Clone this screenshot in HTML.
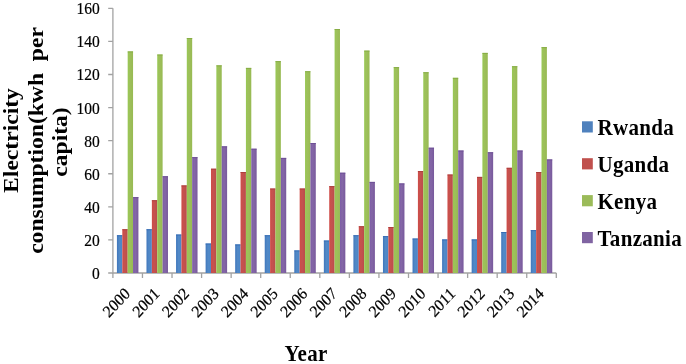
<!DOCTYPE html>
<html><head><meta charset="utf-8"><style>
html,body{margin:0;padding:0;background:#fff;}
svg{display:block;filter:blur(0.35px);}
.t{font-family:"Liberation Serif",serif;font-size:15.5px;fill:#000;stroke:#000;stroke-width:0.2px;}
.x{font-family:"Liberation Serif",serif;font-size:15.5px;fill:#000;stroke:#000;stroke-width:0.2px;}
.b{font-family:"Liberation Serif",serif;font-size:20px;font-weight:bold;fill:#000;}
.hl{letter-spacing:0.3px;font-size:21px;}
</style></head><body>
<svg width="686" height="364" viewBox="0 0 686 364">
<rect width="686" height="364" fill="#fff"/>
<path d="M112.9 8.3V273.0H556.30" fill="none" stroke="#a2a2a2" stroke-width="1.3"/>
<path d="M108.20 273.00H112.9M108.20 239.91H112.9M108.20 206.82H112.9M108.20 173.74H112.9M108.20 140.65H112.9M108.20 107.56H112.9M108.20 74.48H112.9M108.20 41.39H112.9M108.20 8.30H112.9M112.90 273.0V278.0M142.46 273.0V278.0M172.02 273.0V278.0M201.58 273.0V278.0M231.14 273.0V278.0M260.70 273.0V278.0M290.26 273.0V278.0M319.82 273.0V278.0M349.38 273.0V278.0M378.94 273.0V278.0M408.50 273.0V278.0M438.06 273.0V278.0M467.62 273.0V278.0M497.18 273.0V278.0M526.74 273.0V278.0M556.30 273.0V278.0" fill="none" stroke="#a2a2a2" stroke-width="1.3"/>
<defs>
<linearGradient id="g0" x1="0" y1="0" x2="1" y2="0"><stop offset="0" stop-color="#3F76BC"/><stop offset="0.45" stop-color="#5289C6"/><stop offset="1" stop-color="#4A86CA"/></linearGradient>
<linearGradient id="g1" x1="0" y1="0" x2="1" y2="0"><stop offset="0" stop-color="#CF4B47"/><stop offset="0.45" stop-color="#C4534F"/><stop offset="1" stop-color="#BC4B4B"/></linearGradient>
<linearGradient id="g2" x1="0" y1="0" x2="1" y2="0"><stop offset="0" stop-color="#98C853"/><stop offset="0.45" stop-color="#9EBF5B"/><stop offset="1" stop-color="#97BA52"/></linearGradient>
<linearGradient id="g3" x1="0" y1="0" x2="1" y2="0"><stop offset="0" stop-color="#7D5CA8"/><stop offset="0.45" stop-color="#8467A6"/><stop offset="1" stop-color="#78599C"/></linearGradient>
</defs>
<rect x="116.93" y="235.20" width="5.37" height="37.80" fill="url(#g0)"/>
<rect x="116.93" y="235.20" width="5.37" height="1" fill="#2F66B0" opacity="0.8"/>
<rect x="146.49" y="229.20" width="5.37" height="43.80" fill="url(#g0)"/>
<rect x="146.49" y="229.20" width="5.37" height="1" fill="#2F66B0" opacity="0.8"/>
<rect x="176.05" y="234.50" width="5.37" height="38.50" fill="url(#g0)"/>
<rect x="176.05" y="234.50" width="5.37" height="1" fill="#2F66B0" opacity="0.8"/>
<rect x="205.61" y="243.50" width="5.37" height="29.50" fill="url(#g0)"/>
<rect x="205.61" y="243.50" width="5.37" height="1" fill="#2F66B0" opacity="0.8"/>
<rect x="235.17" y="244.40" width="5.37" height="28.60" fill="url(#g0)"/>
<rect x="235.17" y="244.40" width="5.37" height="1" fill="#2F66B0" opacity="0.8"/>
<rect x="264.73" y="235.20" width="5.37" height="37.80" fill="url(#g0)"/>
<rect x="264.73" y="235.20" width="5.37" height="1" fill="#2F66B0" opacity="0.8"/>
<rect x="294.29" y="250.40" width="5.37" height="22.60" fill="url(#g0)"/>
<rect x="294.29" y="250.40" width="5.37" height="1" fill="#2F66B0" opacity="0.8"/>
<rect x="323.85" y="240.50" width="5.37" height="32.50" fill="url(#g0)"/>
<rect x="323.85" y="240.50" width="5.37" height="1" fill="#2F66B0" opacity="0.8"/>
<rect x="353.41" y="235.20" width="5.37" height="37.80" fill="url(#g0)"/>
<rect x="353.41" y="235.20" width="5.37" height="1" fill="#2F66B0" opacity="0.8"/>
<rect x="382.97" y="236.10" width="5.37" height="36.90" fill="url(#g0)"/>
<rect x="382.97" y="236.10" width="5.37" height="1" fill="#2F66B0" opacity="0.8"/>
<rect x="412.53" y="238.50" width="5.37" height="34.50" fill="url(#g0)"/>
<rect x="412.53" y="238.50" width="5.37" height="1" fill="#2F66B0" opacity="0.8"/>
<rect x="442.09" y="239.40" width="5.37" height="33.60" fill="url(#g0)"/>
<rect x="442.09" y="239.40" width="5.37" height="1" fill="#2F66B0" opacity="0.8"/>
<rect x="471.65" y="239.40" width="5.37" height="33.60" fill="url(#g0)"/>
<rect x="471.65" y="239.40" width="5.37" height="1" fill="#2F66B0" opacity="0.8"/>
<rect x="501.21" y="232.00" width="5.37" height="41.00" fill="url(#g0)"/>
<rect x="501.21" y="232.00" width="5.37" height="1" fill="#2F66B0" opacity="0.8"/>
<rect x="530.77" y="230.10" width="5.37" height="42.90" fill="url(#g0)"/>
<rect x="530.77" y="230.10" width="5.37" height="1" fill="#2F66B0" opacity="0.8"/>
<rect x="122.31" y="229.20" width="5.37" height="43.80" fill="url(#g1)"/>
<rect x="122.31" y="229.20" width="5.37" height="1" fill="#A83A38" opacity="0.8"/>
<rect x="151.87" y="200.20" width="5.37" height="72.80" fill="url(#g1)"/>
<rect x="151.87" y="200.20" width="5.37" height="1" fill="#A83A38" opacity="0.8"/>
<rect x="181.43" y="185.40" width="5.37" height="87.60" fill="url(#g1)"/>
<rect x="181.43" y="185.40" width="5.37" height="1" fill="#A83A38" opacity="0.8"/>
<rect x="210.99" y="168.70" width="5.37" height="104.30" fill="url(#g1)"/>
<rect x="210.99" y="168.70" width="5.37" height="1" fill="#A83A38" opacity="0.8"/>
<rect x="240.55" y="172.00" width="5.37" height="101.00" fill="url(#g1)"/>
<rect x="240.55" y="172.00" width="5.37" height="1" fill="#A83A38" opacity="0.8"/>
<rect x="270.11" y="188.50" width="5.37" height="84.50" fill="url(#g1)"/>
<rect x="270.11" y="188.50" width="5.37" height="1" fill="#A83A38" opacity="0.8"/>
<rect x="299.67" y="188.50" width="5.37" height="84.50" fill="url(#g1)"/>
<rect x="299.67" y="188.50" width="5.37" height="1" fill="#A83A38" opacity="0.8"/>
<rect x="329.23" y="186.10" width="5.37" height="86.90" fill="url(#g1)"/>
<rect x="329.23" y="186.10" width="5.37" height="1" fill="#A83A38" opacity="0.8"/>
<rect x="358.79" y="226.20" width="5.37" height="46.80" fill="url(#g1)"/>
<rect x="358.79" y="226.20" width="5.37" height="1" fill="#A83A38" opacity="0.8"/>
<rect x="388.35" y="227.00" width="5.37" height="46.00" fill="url(#g1)"/>
<rect x="388.35" y="227.00" width="5.37" height="1" fill="#A83A38" opacity="0.8"/>
<rect x="417.91" y="171.00" width="5.37" height="102.00" fill="url(#g1)"/>
<rect x="417.91" y="171.00" width="5.37" height="1" fill="#A83A38" opacity="0.8"/>
<rect x="447.47" y="174.50" width="5.37" height="98.50" fill="url(#g1)"/>
<rect x="447.47" y="174.50" width="5.37" height="1" fill="#A83A38" opacity="0.8"/>
<rect x="477.03" y="176.90" width="5.37" height="96.10" fill="url(#g1)"/>
<rect x="477.03" y="176.90" width="5.37" height="1" fill="#A83A38" opacity="0.8"/>
<rect x="506.59" y="167.80" width="5.37" height="105.20" fill="url(#g1)"/>
<rect x="506.59" y="167.80" width="5.37" height="1" fill="#A83A38" opacity="0.8"/>
<rect x="536.15" y="172.00" width="5.37" height="101.00" fill="url(#g1)"/>
<rect x="536.15" y="172.00" width="5.37" height="1" fill="#A83A38" opacity="0.8"/>
<rect x="127.68" y="51.40" width="5.37" height="221.60" fill="url(#g2)"/>
<rect x="127.68" y="51.40" width="5.37" height="1" fill="#82A840" opacity="0.8"/>
<rect x="157.24" y="54.50" width="5.37" height="218.50" fill="url(#g2)"/>
<rect x="157.24" y="54.50" width="5.37" height="1" fill="#82A840" opacity="0.8"/>
<rect x="186.80" y="38.00" width="5.37" height="235.00" fill="url(#g2)"/>
<rect x="186.80" y="38.00" width="5.37" height="1" fill="#82A840" opacity="0.8"/>
<rect x="216.36" y="65.30" width="5.37" height="207.70" fill="url(#g2)"/>
<rect x="216.36" y="65.30" width="5.37" height="1" fill="#82A840" opacity="0.8"/>
<rect x="245.92" y="67.90" width="5.37" height="205.10" fill="url(#g2)"/>
<rect x="245.92" y="67.90" width="5.37" height="1" fill="#82A840" opacity="0.8"/>
<rect x="275.48" y="61.10" width="5.37" height="211.90" fill="url(#g2)"/>
<rect x="275.48" y="61.10" width="5.37" height="1" fill="#82A840" opacity="0.8"/>
<rect x="305.04" y="71.20" width="5.37" height="201.80" fill="url(#g2)"/>
<rect x="305.04" y="71.20" width="5.37" height="1" fill="#82A840" opacity="0.8"/>
<rect x="334.60" y="29.00" width="5.37" height="244.00" fill="url(#g2)"/>
<rect x="334.60" y="29.00" width="5.37" height="1" fill="#82A840" opacity="0.8"/>
<rect x="364.16" y="50.60" width="5.37" height="222.40" fill="url(#g2)"/>
<rect x="364.16" y="50.60" width="5.37" height="1" fill="#82A840" opacity="0.8"/>
<rect x="393.72" y="67.10" width="5.37" height="205.90" fill="url(#g2)"/>
<rect x="393.72" y="67.10" width="5.37" height="1" fill="#82A840" opacity="0.8"/>
<rect x="423.28" y="72.20" width="5.37" height="200.80" fill="url(#g2)"/>
<rect x="423.28" y="72.20" width="5.37" height="1" fill="#82A840" opacity="0.8"/>
<rect x="452.84" y="77.80" width="5.37" height="195.20" fill="url(#g2)"/>
<rect x="452.84" y="77.80" width="5.37" height="1" fill="#82A840" opacity="0.8"/>
<rect x="482.40" y="52.90" width="5.37" height="220.10" fill="url(#g2)"/>
<rect x="482.40" y="52.90" width="5.37" height="1" fill="#82A840" opacity="0.8"/>
<rect x="511.96" y="66.20" width="5.37" height="206.80" fill="url(#g2)"/>
<rect x="511.96" y="66.20" width="5.37" height="1" fill="#82A840" opacity="0.8"/>
<rect x="541.52" y="47.10" width="5.37" height="225.90" fill="url(#g2)"/>
<rect x="541.52" y="47.10" width="5.37" height="1" fill="#82A840" opacity="0.8"/>
<rect x="133.05" y="197.10" width="5.37" height="75.90" fill="url(#g3)"/>
<rect x="133.05" y="197.10" width="5.37" height="1" fill="#6A4B92" opacity="0.8"/>
<rect x="162.61" y="176.20" width="5.37" height="96.80" fill="url(#g3)"/>
<rect x="162.61" y="176.20" width="5.37" height="1" fill="#6A4B92" opacity="0.8"/>
<rect x="192.17" y="157.10" width="5.37" height="115.90" fill="url(#g3)"/>
<rect x="192.17" y="157.10" width="5.37" height="1" fill="#6A4B92" opacity="0.8"/>
<rect x="221.73" y="146.30" width="5.37" height="126.70" fill="url(#g3)"/>
<rect x="221.73" y="146.30" width="5.37" height="1" fill="#6A4B92" opacity="0.8"/>
<rect x="251.29" y="148.70" width="5.37" height="124.30" fill="url(#g3)"/>
<rect x="251.29" y="148.70" width="5.37" height="1" fill="#6A4B92" opacity="0.8"/>
<rect x="280.85" y="157.90" width="5.37" height="115.10" fill="url(#g3)"/>
<rect x="280.85" y="157.90" width="5.37" height="1" fill="#6A4B92" opacity="0.8"/>
<rect x="310.41" y="143.00" width="5.37" height="130.00" fill="url(#g3)"/>
<rect x="310.41" y="143.00" width="5.37" height="1" fill="#6A4B92" opacity="0.8"/>
<rect x="339.97" y="172.70" width="5.37" height="100.30" fill="url(#g3)"/>
<rect x="339.97" y="172.70" width="5.37" height="1" fill="#6A4B92" opacity="0.8"/>
<rect x="369.53" y="181.90" width="5.37" height="91.10" fill="url(#g3)"/>
<rect x="369.53" y="181.90" width="5.37" height="1" fill="#6A4B92" opacity="0.8"/>
<rect x="399.09" y="183.40" width="5.37" height="89.60" fill="url(#g3)"/>
<rect x="399.09" y="183.40" width="5.37" height="1" fill="#6A4B92" opacity="0.8"/>
<rect x="428.65" y="147.70" width="5.37" height="125.30" fill="url(#g3)"/>
<rect x="428.65" y="147.70" width="5.37" height="1" fill="#6A4B92" opacity="0.8"/>
<rect x="458.21" y="150.50" width="5.37" height="122.50" fill="url(#g3)"/>
<rect x="458.21" y="150.50" width="5.37" height="1" fill="#6A4B92" opacity="0.8"/>
<rect x="487.77" y="152.20" width="5.37" height="120.80" fill="url(#g3)"/>
<rect x="487.77" y="152.20" width="5.37" height="1" fill="#6A4B92" opacity="0.8"/>
<rect x="517.33" y="150.50" width="5.37" height="122.50" fill="url(#g3)"/>
<rect x="517.33" y="150.50" width="5.37" height="1" fill="#6A4B92" opacity="0.8"/>
<rect x="546.89" y="159.40" width="5.37" height="113.60" fill="url(#g3)"/>
<rect x="546.89" y="159.40" width="5.37" height="1" fill="#6A4B92" opacity="0.8"/>
<text transform="translate(99.8 279.00) scale(1 1.12)" text-anchor="end" class="t">0</text>
<text transform="translate(99.8 245.91) scale(1 1.12)" text-anchor="end" class="t">20</text>
<text transform="translate(99.8 212.82) scale(1 1.12)" text-anchor="end" class="t">40</text>
<text transform="translate(99.8 179.74) scale(1 1.12)" text-anchor="end" class="t">60</text>
<text transform="translate(99.8 146.65) scale(1 1.12)" text-anchor="end" class="t">80</text>
<text transform="translate(99.8 113.56) scale(1 1.12)" text-anchor="end" class="t">100</text>
<text transform="translate(99.8 80.48) scale(1 1.12)" text-anchor="end" class="t">120</text>
<text transform="translate(99.8 47.39) scale(1 1.12)" text-anchor="end" class="t">140</text>
<text transform="translate(99.8 14.30) scale(1 1.12)" text-anchor="end" class="t">160</text>
<text transform="translate(130.98 294.60) scale(1 1.08) rotate(-45)" text-anchor="end" class="x">2000</text>
<text transform="translate(160.54 294.60) scale(1 1.08) rotate(-45)" text-anchor="end" class="x">2001</text>
<text transform="translate(190.10 294.60) scale(1 1.08) rotate(-45)" text-anchor="end" class="x">2002</text>
<text transform="translate(219.66 294.60) scale(1 1.08) rotate(-45)" text-anchor="end" class="x">2003</text>
<text transform="translate(249.22 294.60) scale(1 1.08) rotate(-45)" text-anchor="end" class="x">2004</text>
<text transform="translate(278.78 294.60) scale(1 1.08) rotate(-45)" text-anchor="end" class="x">2005</text>
<text transform="translate(308.34 294.60) scale(1 1.08) rotate(-45)" text-anchor="end" class="x">2006</text>
<text transform="translate(337.90 294.60) scale(1 1.08) rotate(-45)" text-anchor="end" class="x">2007</text>
<text transform="translate(367.46 294.60) scale(1 1.08) rotate(-45)" text-anchor="end" class="x">2008</text>
<text transform="translate(397.02 294.60) scale(1 1.08) rotate(-45)" text-anchor="end" class="x">2009</text>
<text transform="translate(426.58 294.60) scale(1 1.08) rotate(-45)" text-anchor="end" class="x">2010</text>
<text transform="translate(456.14 294.60) scale(1 1.08) rotate(-45)" text-anchor="end" class="x">2011</text>
<text transform="translate(485.70 294.60) scale(1 1.08) rotate(-45)" text-anchor="end" class="x">2012</text>
<text transform="translate(515.26 294.60) scale(1 1.08) rotate(-45)" text-anchor="end" class="x">2013</text>
<text transform="translate(544.82 294.60) scale(1 1.08) rotate(-45)" text-anchor="end" class="x">2014</text>
<text transform="translate(306.0 360.5) scale(1 1.13)" text-anchor="middle" class="b hl">Year</text>
<text transform="translate(17.5 140.5) scale(1 1.18) rotate(-90)" text-anchor="middle" class="b">Electricity</text>
<text transform="translate(42.5 140.5) scale(1 1.18) rotate(-90)" text-anchor="middle" class="b">consumption(kwh&#160; per</text>
<text transform="translate(66.5 142.0) scale(1 1.18) rotate(-90)" text-anchor="middle" class="b">capita)</text>
<rect x="582" y="121.3" width="10.8" height="11.2" fill="#4F81BD"/>
<text transform="translate(597.5 135.0) scale(1 1.13)" class="b hl">Rwanda</text>
<rect x="582" y="158.2" width="10.8" height="11.2" fill="#C0504D"/>
<text transform="translate(597.5 171.9) scale(1 1.13)" class="b hl">Uganda</text>
<rect x="582" y="195.1" width="10.8" height="11.2" fill="#9BBB59"/>
<text transform="translate(597.5 208.8) scale(1 1.13)" class="b hl">Kenya</text>
<rect x="582" y="232.0" width="10.8" height="11.2" fill="#8064A2"/>
<text transform="translate(597.5 245.7) scale(1 1.13)" class="b hl">Tanzania</text>
</svg>
</body></html>
